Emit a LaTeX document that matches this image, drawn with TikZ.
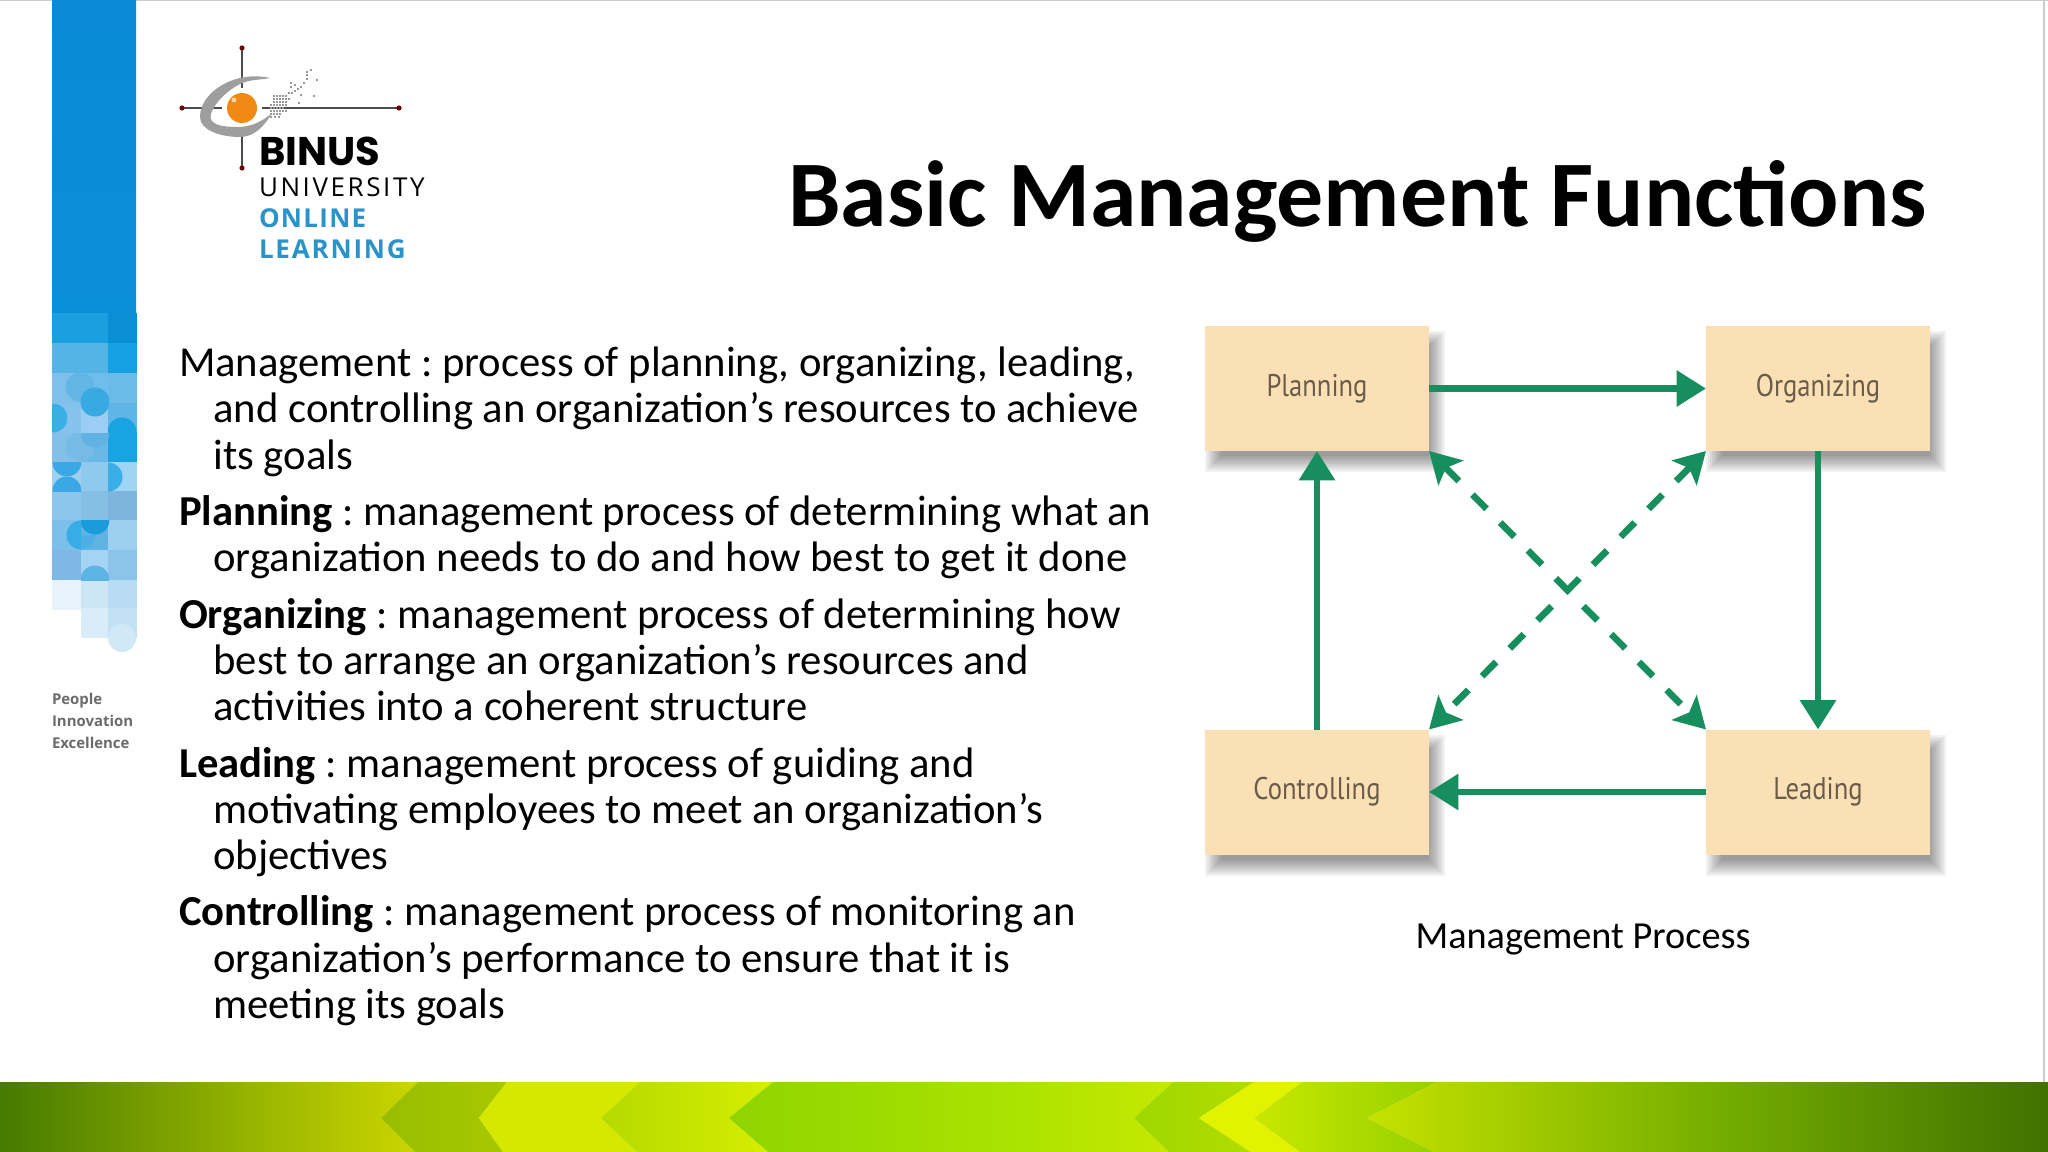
\documentclass[tikz,border=0pt]{standalone}
\usepackage{fontspec}
\setmainfont{Carlito}
\newfontfamily\boxfont{PT Sans}
\newfontfamily\logofont{Open Sans}
\newfontfamily\logoheavy{Poppins}
\usetikzlibrary{arrows.meta}
\pgfdeclarelayer{bg}
\pgfsetlayers{bg,main}
\frenchspacing
\definecolor{arrowgreen}{HTML}{168E5E}
\definecolor{boxfill}{HTML}{FBE0B6}
\definecolor{boxtext}{HTML}{6A5C48}
\definecolor{logoblue}{HTML}{2A94C8}
\newcommand{\tilefill}[3]{\definecolor{tmpc}{HTML}{#3}\fill[tmpc] (#1,#2) rectangle +(28.5,30);}
\newcommand{\halfc}[7]{\definecolor{tmpc}{HTML}{#7}\begin{scope}\clip (#1,#2) rectangle (#3,#4);\fill[tmpc] (#5,#6) circle[radius=14.5];\end{scope}}
\newcommand{\chev}[9]{\definecolor{ca}{HTML}{#8}\definecolor{cb}{HTML}{#9}\shade[left color=ca,right color=cb] (#2,1082) -- (#3,1118) -- (#4,1152) -- (#7,1152) -- (#6,1118) -- (#5,1082) -- cycle;}
\tikzset{
  bodyline/.style={anchor=base west,inner sep=0pt,outer sep=0pt,font=\fontsize{32pt}{38pt}\selectfont},
  mbox/.style={fill=boxfill,inner sep=0pt,outer sep=0pt,minimum width=168pt,minimum height=93.75pt,text=boxtext,font=\boxfont\fontsize{23.5pt}{26pt}\selectfont},
  solidarrow/.style={arrowgreen,line width=5.2pt,-{Triangle[length=22pt,width=26pt]}},
  dasharrow/.style={arrowgreen,line width=5pt,dash pattern=on 15pt off 14.5pt,{Stealth[length=23pt,width=26pt,inset=5pt]}-{Stealth[length=23pt,width=26pt,inset=5pt]}},
  logotext/.style={anchor=base west,inner sep=0pt,outer sep=0pt},
  tagline/.style={anchor=base west,inner sep=0pt,outer sep=0pt,text=black!58,font=\logofont\bfseries\fontsize{11.2pt}{14pt}\selectfont}
}
\begin{document}
\begin{tikzpicture}[x=0.75pt,y=-0.75pt]
\useasboundingbox (0,0) rectangle (2048,1152);
\begin{pgfonlayer}{bg}
\fill[white] (0,0) rectangle (2048,1152);
\end{pgfonlayer}
\fill[black!20] (0,0) rectangle (2048,1.5);
\fill[black!20] (2043,0) rectangle (2045,1082);
% left bar
\definecolor{barblue}{HTML}{0A8AD6}
\shade[top color=barblue,bottom color=barblue!95!cyan] (52,1) rectangle (136,313);
\tilefill{52}{313}{1A9FE0}\tilefill{80.5}{313}{1A9FE0}\tilefill{108}{313}{0A8FD4}
\tilefill{52}{343}{55B4E6}\tilefill{80.5}{343}{55B4E6}\tilefill{108}{343}{15A0E4}
\tilefill{52}{373}{7FC0EA}\tilefill{80.5}{373}{6FBDEC}\tilefill{108}{373}{6ABBE8}
\tilefill{52}{403}{85C3EC}\tilefill{80.5}{403}{9CCDF2}\tilefill{108}{403}{5FB6E6}
\tilefill{52}{433}{83C0E8}\tilefill{80.5}{433}{6AB8E6}\tilefill{108}{433}{1AA3E3}
\tilefill{52}{462}{9FD0F0}\tilefill{80.5}{462}{8FC9EE}\tilefill{108}{462}{A0D4F4}
\tilefill{52}{491}{8DC6EC}\tilefill{80.5}{491}{86BFE4}\tilefill{108}{491}{7DB5DE}
\tilefill{52}{520}{7CC0EA}\tilefill{80.5}{520}{5FB4E4}\tilefill{108}{520}{9DCFF0}
\tilefill{52}{550}{7DB9E4}\tilefill{80.5}{550}{A5D3F3}\tilefill{108}{550}{8CC3E8}
\tilefill{52}{580}{E6F3FB}\tilefill{80.5}{580}{CCE6F6}\tilefill{108}{580}{B8DCF4}
\tilefill{80.5}{608}{D8EDF8}\tilefill{108}{608}{C2E1F5}
\definecolor{tailc}{HTML}{D0E8F7}
\fill[tailc] (108,636) rectangle (136,640);
\fill[tailc] (122,638) circle[radius=14];
\halfc{66}{373}{109}{403}{80}{387}{62B6E6}
\halfc{66}{387}{109}{430}{95}{402}{38AAE2}
\halfc{52}{400}{67}{435}{53}{418}{3BAEE6}
\halfc{108}{400}{137}{432}{122}{432}{1AA3E3}
\halfc{66}{433}{109}{462}{80}{447}{76BBE6}
\halfc{81}{433}{109}{448}{95}{433}{5FB2E2}
\halfc{52}{462}{81}{476}{67}{462}{3AA8E4}
\halfc{52}{476}{81}{491}{67}{491}{3AA8E4}
\halfc{108}{462}{123}{491}{108}{477}{3AAEE6}
\halfc{66}{520}{81}{550}{81}{535}{38ACE6}
\halfc{81}{520}{109}{535}{95}{520}{1A9CDC}
\halfc{81}{535}{109}{550}{81}{535}{4CB0E4}
\halfc{81}{565}{109}{580}{95}{580}{5CB4E4}
% logo
\draw[black!70,line width=.9pt] (242,48) -- (242,88) (242,128) -- (242,168) (182,108) -- (222,108) (262,108) -- (399,108);
\foreach \px/\py in {242/48,242/168,182/108,399/108}{\fill[red!45!black] (\px,\py) circle[radius=2.6];}
\fill[black!38] (270,78) .. controls (235,70) and (200,92) .. (200,117) .. controls (200,130) and (220,137) .. (240,137) .. controls (255,137) and (265,125) .. (272,113) .. controls (262,122) and (250,127) .. (238,127) .. controls (222,127) and (208,125) .. (211,114) .. controls (214,103) and (228,90) .. (240,84) .. controls (250,79) and (262,80) .. (270,78) -- cycle;
\fill[white] (242,108) circle[radius=17];
\definecolor{eyeorange}{HTML}{F08A12}
\fill[eyeorange] (242,108) circle[radius=15];
\fill[orange!35!white] (234,100) circle[radius=2.5];
\foreach \px/\py in {273/95,276/95,279/95,282/95,285/95,273/98,276/98,279/98,282/98,285/98,288/98,273/101,276/101,279/101,282/101,285/101,270/104,273/104,276/104,279/104,282/104,285/104,270/107,273/107,276/107,279/107,282/107,270/110,273/110,276/110,279/110,282/110,270/113,273/113,276/113,279/113,285/110,270/116,274/116,278/116,288/92,291/92,294/90,290/86,294/84,297/88,300/86,290/82,300/94,298/102,306/78,306/74,306/71,310/69,316/79,313/95,303/82}{\fill[black!40] (\px,\py) rectangle +(2,2);}
\node[logotext] (lbinus) at (259,166) {\logoheavy\bfseries\fontsize{30pt}{32pt}\selectfont BINUS};
\node[logotext] (lbinus2) at (259,196) {\logofont\addfontfeature{LetterSpace=10}\fontsize{19.5pt}{22pt}\selectfont UNIVERSITY};
\node[logotext,text=logoblue] (lbinus3) at (259,227) {\logofont\bfseries\addfontfeature{LetterSpace=5}\fontsize{19.5pt}{22pt}\selectfont ONLINE};
\node[logotext,text=logoblue] (lbinus4) at (259,258) {\logofont\bfseries\addfontfeature{LetterSpace=7}\fontsize{19.5pt}{22pt}\selectfont LEARNING};
\node[tagline] (tag1) at (52,704) {People};
\node[tagline] (tag2) at (52,726) {Innovation};
\node[tagline] (tag3) at (52,748) {Excellence};
% title
\node[anchor=base east,inner sep=0pt,outer sep=0pt,font=\bfseries\fontsize{70.4pt}{76pt}\selectfont] (title) at (1927,226) {Basic Management Functions};
% body
\node[bodyline] (t1) at (179,376.5) {Management : process of planning, organizing, leading,};
\node[bodyline] (t2) at (213.5,422.5) {and controlling an organization’s resources to achieve};
\node[bodyline] (t3) at (213.5,469.5) {its goals};
\node[bodyline] (t4) at (179,525.5) {\textbf{Planning} : management process of determining what an};
\node[bodyline] (t5) at (213.5,571.5) {organization needs to do and how best to get it done};
\node[bodyline] (t6) at (179,628.5) {\textbf{Organizing} : management process of determining how};
\node[bodyline] (t7) at (213.5,674.5) {best to arrange an organization’s resources and};
\node[bodyline] (t8) at (213.5,720.5) {activities into a coherent structure};
\node[bodyline] (t9) at (179,777.5) {\textbf{Leading} : management process of guiding and};
\node[bodyline] (t10) at (213.5,823.5) {motivating employees to meet an organization’s};
\node[bodyline] (t11) at (213.5,869.5) {objectives};
\node[bodyline] (t12) at (179,925.5) {\textbf{Controlling} : management process of monitoring an};
\node[bodyline] (t13) at (213.5,972.5) {organization’s performance to ensure that it is};
\node[bodyline] (t14) at (213.5,1018.5) {meeting its goals};
% diagram
\node[mbox] (plan) at (1317,388.5) {\scalebox{.85}[1]{Planning}};
\node[mbox] (org) at (1818,388.5) {\scalebox{.85}[1]{Organizing}};
\node[mbox] (ctrl) at (1317,792) {\scalebox{.85}[1]{Controlling}};
\node[mbox] (lead) at (1818,792) {\scalebox{.85}[1]{Leading}};
\begin{pgfonlayer}{bg}
\foreach \n in {plan,org,ctrl,lead}{
  \foreach \g in {-8,-6,-4,-2,0,2,4,6,8}{
    \fill[black,opacity=.05] ([shift={(8-\g,13-\g)}]\n.north west) rectangle ([shift={(8+\g,13+\g)}]\n.south east);
  }
}
\end{pgfonlayer}
\draw[solidarrow] (plan) -- (org);
\draw[solidarrow] (org) -- (lead);
\draw[solidarrow] (lead) -- (ctrl);
\draw[solidarrow] (ctrl) -- (plan);
\draw[dasharrow] (plan.south east) -- (lead.north west);
\draw[dasharrow] (org.south west) -- (ctrl.north east);
\node[inner sep=0pt,outer sep=0pt,font=\fontsize{28.7pt}{34pt}\selectfont] (cap) at (1583,939.5) {Management Process};
% band
\chev{x}{0}{0}{0}{250}{250}{250}{467A00}{96B400}
\chev{x}{250}{250}{250}{418}{381}{415}{96B400}{CCD600}
\chev{x}{418}{381}{415}{507}{479}{503}{98BE00}{A8C800}
\chev{x}{507}{479}{503}{640}{601}{637}{D4E800}{D4E800}
\chev{x}{640}{601}{637}{773}{729}{768}{B5DA00}{D6EE00}
\chev{x}{773}{729}{768}{1000}{1000}{1000}{90D400}{A8E200}
\chev{x}{1000}{1000}{1000}{1173}{1134}{1169}{A8E200}{C6E800}
\chev{x}{1173}{1134}{1169}{1254}{1199}{1251}{9ED800}{B2DC00}
\chev{x}{1254}{1199}{1251}{1302}{1254}{1300}{E2F200}{E2F200}
\chev{x}{1302}{1254}{1300}{1437}{1367}{1434}{C8E800}{96D000}
\chev{x}{1437}{1367}{1434}{1700}{1700}{1700}{C6E200}{78B000}
\chev{x}{1700}{1700}{1700}{2048}{2048}{2048}{78B000}{427000}
\end{tikzpicture}
\end{document}
